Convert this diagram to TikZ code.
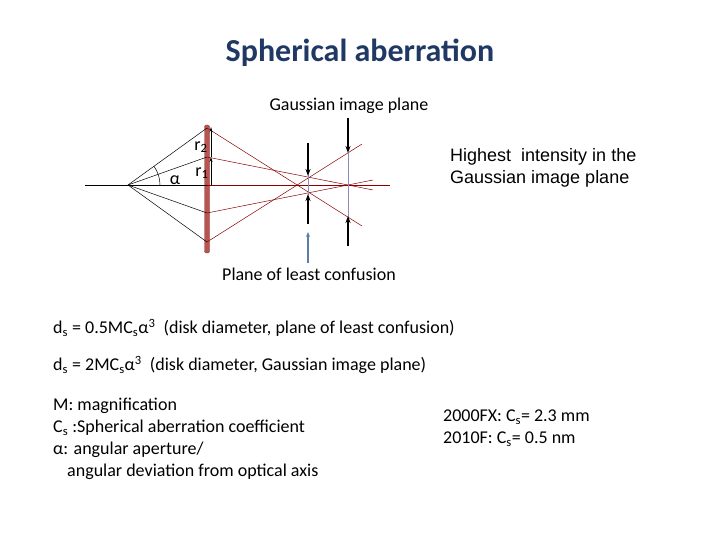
\documentclass[tikz,border=0pt]{standalone}
\usepackage{fontspec}
\usetikzlibrary{arrows.meta}
\setmainfont{Carlito}
\newfontfamily\arial{Liberation Sans}
\begin{document}
\begin{tikzpicture}[x=1pt,y=-1pt,
 txt/.style={inner sep=0pt,font=\fontsize{18}{22}\selectfont},
 ray/.style={draw=black,line width=0.5pt},
 rray/.style={draw=red!55!black,line width=0.5pt},
 arr/.style={-{Stealth[length=7pt,width=5pt]},line width=1.3pt},
 blu/.style={draw=blue!30!gray!70,line width=0.8pt}]
\useasboundingbox (0,0) rectangle (720,540);
\definecolor{ttl}{HTML}{1F3864}
\definecolor{lensc}{HTML}{B95550}
\definecolor{bluarr}{HTML}{5B7FA8}
\node[txt,font=\fontsize{32}{36}\selectfont\bfseries,text=ttl] (title) at (360,53) {Spherical aberration};
\node[txt] (gip) at (349,106) {Gaussian image plane};
\coordinate (S) at (128,185);
\coordinate (A0) at (85,185);
\coordinate (L) at (207,185);
\coordinate (Lt) at (207,128); \coordinate (Lb) at (207,242);
\coordinate (Li) at (207,157); \coordinate (Lj) at (207,213);
\coordinate (E) at (390,185);
% lens
\node[draw=lensc!70!black,fill=lensc,minimum width=5pt,minimum height=128pt,inner sep=0pt,rounded corners=2pt] (lens) at (207,189) {};
\draw[ray] (A0) -- (L);
\draw[ray] (S) -- (Lt); \draw[ray] (S) -- (Lb);
\draw[ray] (S) -- (Li); \draw[ray] (S) -- (Lj);
\draw[ray] (160,185) arc[start angle=0,end angle=-36,radius=32];
\draw[rray] (L) -- (E);
\draw[rray] (Lt) -- (362,226); \draw[rray] (Lb) -- (362,144);
\draw[rray] (Li) -- (373,190); \draw[rray] (Lj) -- (373,180);
% r arrows
\draw[-{Stealth[length=5pt,width=3pt]},line width=0.8pt] (211,185) -- (211,157);
\draw[-{Stealth[length=5pt,width=3pt]},line width=0.8pt] (211,157) -- (211,127);
\node[txt] (al) at (175,180) {α};
\node[txt] (r2) at (201,147) {r\textsubscript{2}};
\node[txt] (r1) at (202,173) {r\textsubscript{1}};
% planes
\draw[blu] (308,175) -- (308,195);
\draw[blu] (348,152) -- (348,217);
\draw[arr] (308,143) -- (308,176);
\draw[arr] (308,224) -- (308,194);
\draw[arr] (348,118) -- (348,153);
\draw[arr] (348,246) -- (348,216);
\draw[draw=bluarr,line width=1.3pt,-{Stealth[length=5pt,width=4pt]}] (308,263) -- (308,232);
\node[txt] (plc) at (309,274) {Plane of least confusion};
\node[txt,font=\arial\fontsize{18}{22}\selectfont,align=left,anchor=west] (hi) at (450,168) {Highest\ \ intensity in the\\Gaussian image plane};
\node[txt,anchor=west] (f1) at (53,328) {d\textsubscript{s} = 0.5MC\textsubscript{s}α\textsuperscript{3}\ \ (disk diameter, plane of least confusion)};
\node[txt,anchor=west] (f2) at (53,365) {d\textsubscript{s} = 2MC\textsubscript{s}α\textsuperscript{3}\ \ (disk diameter, Gaussian image plane)};
\node[txt,anchor=north west,align=left] (def) at (53,398) {M: magnification\\C\textsubscript{s} :Spherical aberration coefficient\\α: angular aperture/\\\hspace*{14pt}angular deviation from optical axis};
\node[txt,anchor=north west,align=left] (mic) at (443,410) {2000FX: C\textsubscript{s}= 2.3 mm\\2010F: C\textsubscript{s}= 0.5 nm};
\end{tikzpicture}
\end{document}
